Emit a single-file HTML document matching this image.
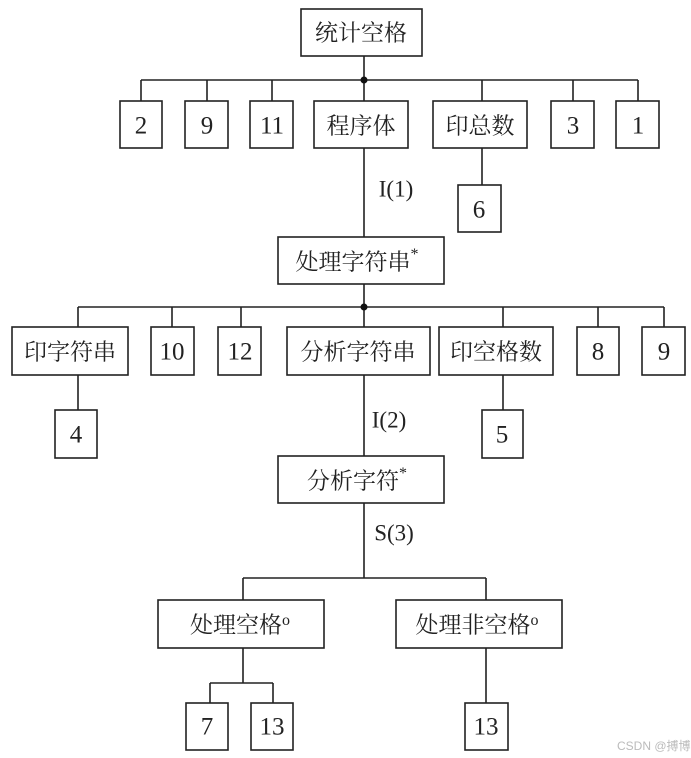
<!DOCTYPE html>
<html><head><meta charset="utf-8"><style>
html,body{margin:0;padding:0;background:#fff;}
svg{display:block}
text{font-family:"Liberation Serif","Noto Serif CJK SC",serif;fill:#222;}
</style></head><body>
<svg width="691" height="758" viewBox="0 0 691 758" xmlns="http://www.w3.org/2000/svg">
<g stroke="#222" stroke-width="1.6" fill="none">
<!-- level 0 -->
<rect x="301" y="9" width="121" height="47"/>
<line x1="364" y1="56" x2="364" y2="101"/>
<line x1="141" y1="80" x2="638" y2="80"/>
<line x1="141" y1="80" x2="141" y2="101"/>
<line x1="207" y1="80" x2="207" y2="101"/>
<line x1="272" y1="80" x2="272" y2="101"/>
<line x1="482" y1="80" x2="482" y2="101"/>
<line x1="573" y1="80" x2="573" y2="101"/>
<line x1="638" y1="80" x2="638" y2="101"/>
<rect x="120" y="101" width="42" height="47"/>
<rect x="185" y="101" width="43" height="47"/>
<rect x="250" y="101" width="43" height="47"/>
<rect x="314" y="101" width="94" height="47"/>
<rect x="433" y="101" width="94" height="47"/>
<rect x="551" y="101" width="43" height="47"/>
<rect x="616" y="101" width="43" height="47"/>
<line x1="482" y1="148" x2="482" y2="185"/>
<rect x="458" y="185" width="43" height="47"/>
<line x1="364" y1="148" x2="364" y2="237"/>
<!-- level 2 -->
<rect x="278" y="237" width="166" height="47"/>
<line x1="364" y1="284" x2="364" y2="327"/>
<line x1="78" y1="307" x2="664" y2="307"/>
<line x1="78" y1="307" x2="78" y2="327"/>
<line x1="172" y1="307" x2="172" y2="327"/>
<line x1="241" y1="307" x2="241" y2="327"/>
<line x1="503" y1="307" x2="503" y2="327"/>
<line x1="598" y1="307" x2="598" y2="327"/>
<line x1="664" y1="307" x2="664" y2="327"/>
<rect x="12" y="327" width="116" height="48"/>
<rect x="151" y="327" width="43" height="48"/>
<rect x="218" y="327" width="43" height="48"/>
<rect x="287" y="327" width="143" height="48"/>
<rect x="439" y="327" width="114" height="48"/>
<rect x="577" y="327" width="42" height="48"/>
<rect x="642" y="327" width="43" height="48"/>
<line x1="78" y1="375" x2="78" y2="410"/>
<rect x="55" y="410" width="42" height="48"/>
<line x1="503" y1="375" x2="503" y2="410"/>
<rect x="482" y="410" width="41" height="48"/>
<line x1="364" y1="375" x2="364" y2="456"/>
<!-- level 3 -->
<rect x="278" y="456" width="166" height="47"/>
<line x1="364" y1="503" x2="364" y2="578"/>
<line x1="243" y1="578" x2="486" y2="578"/>
<line x1="243" y1="578" x2="243" y2="600"/>
<line x1="486" y1="578" x2="486" y2="600"/>
<rect x="158" y="600" width="166" height="48"/>
<rect x="396" y="600" width="166" height="48"/>
<line x1="243" y1="648" x2="243" y2="683"/>
<line x1="210" y1="683" x2="273" y2="683"/>
<line x1="210" y1="683" x2="210" y2="703"/>
<line x1="273" y1="683" x2="273" y2="703"/>
<rect x="186" y="703" width="42" height="47"/>
<rect x="251" y="703" width="42" height="47"/>
<line x1="486" y1="648" x2="486" y2="703"/>
<rect x="465" y="703" width="43" height="47"/>
</g>
<circle cx="364" cy="80" r="3.5" fill="#111"/>
<circle cx="364" cy="307" r="3.5" fill="#111"/>
<g font-size="23" text-anchor="middle" dominant-baseline="central">
<text x="361" y="33">统计空格</text>
<text x="141" y="126" font-size="25">2</text>
<text x="207" y="126" font-size="25">9</text>
<text x="272" y="126" font-size="25">11</text>
<text x="361" y="126">程序体</text>
<text x="480" y="126">印总数</text>
<text x="573" y="126" font-size="25">3</text>
<text x="638" y="126" font-size="25">1</text>
<text x="479" y="210" font-size="25">6</text>
<text x="396" y="189" font-size="23">I(1)</text>
<text x="357" y="262">处理字符串<tspan font-size="16" dy="-8">*</tspan></text>
<text x="70" y="352">印字符串</text>
<text x="172" y="352" font-size="25">10</text>
<text x="240" y="352" font-size="25">12</text>
<text x="358" y="352">分析字符串</text>
<text x="496" y="352">印空格数</text>
<text x="598" y="352" font-size="25">8</text>
<text x="664" y="352" font-size="25">9</text>
<text x="76" y="435" font-size="25">4</text>
<text x="502" y="435" font-size="25">5</text>
<text x="389" y="420">I(2)</text>
<text x="357" y="481">分析字符<tspan font-size="16" dy="-8">*</tspan></text>
<text x="394" y="533">S(3)</text>
<text x="240" y="625">处理空格<tspan dy="-5" font-size="16">o</tspan></text>
<text x="477" y="625">处理非空格<tspan dy="-5" font-size="16">o</tspan></text>
<text x="207" y="727" font-size="25">7</text>
<text x="272" y="727" font-size="25">13</text>
<text x="486" y="727" font-size="25">13</text>
</g>
<text x="617" y="750" font-size="12" fill="#bbb" style="fill:#bbb;font-family:'Liberation Sans','Noto Sans CJK SC',sans-serif">CSDN @搏博</text>
</svg>
</body></html>
